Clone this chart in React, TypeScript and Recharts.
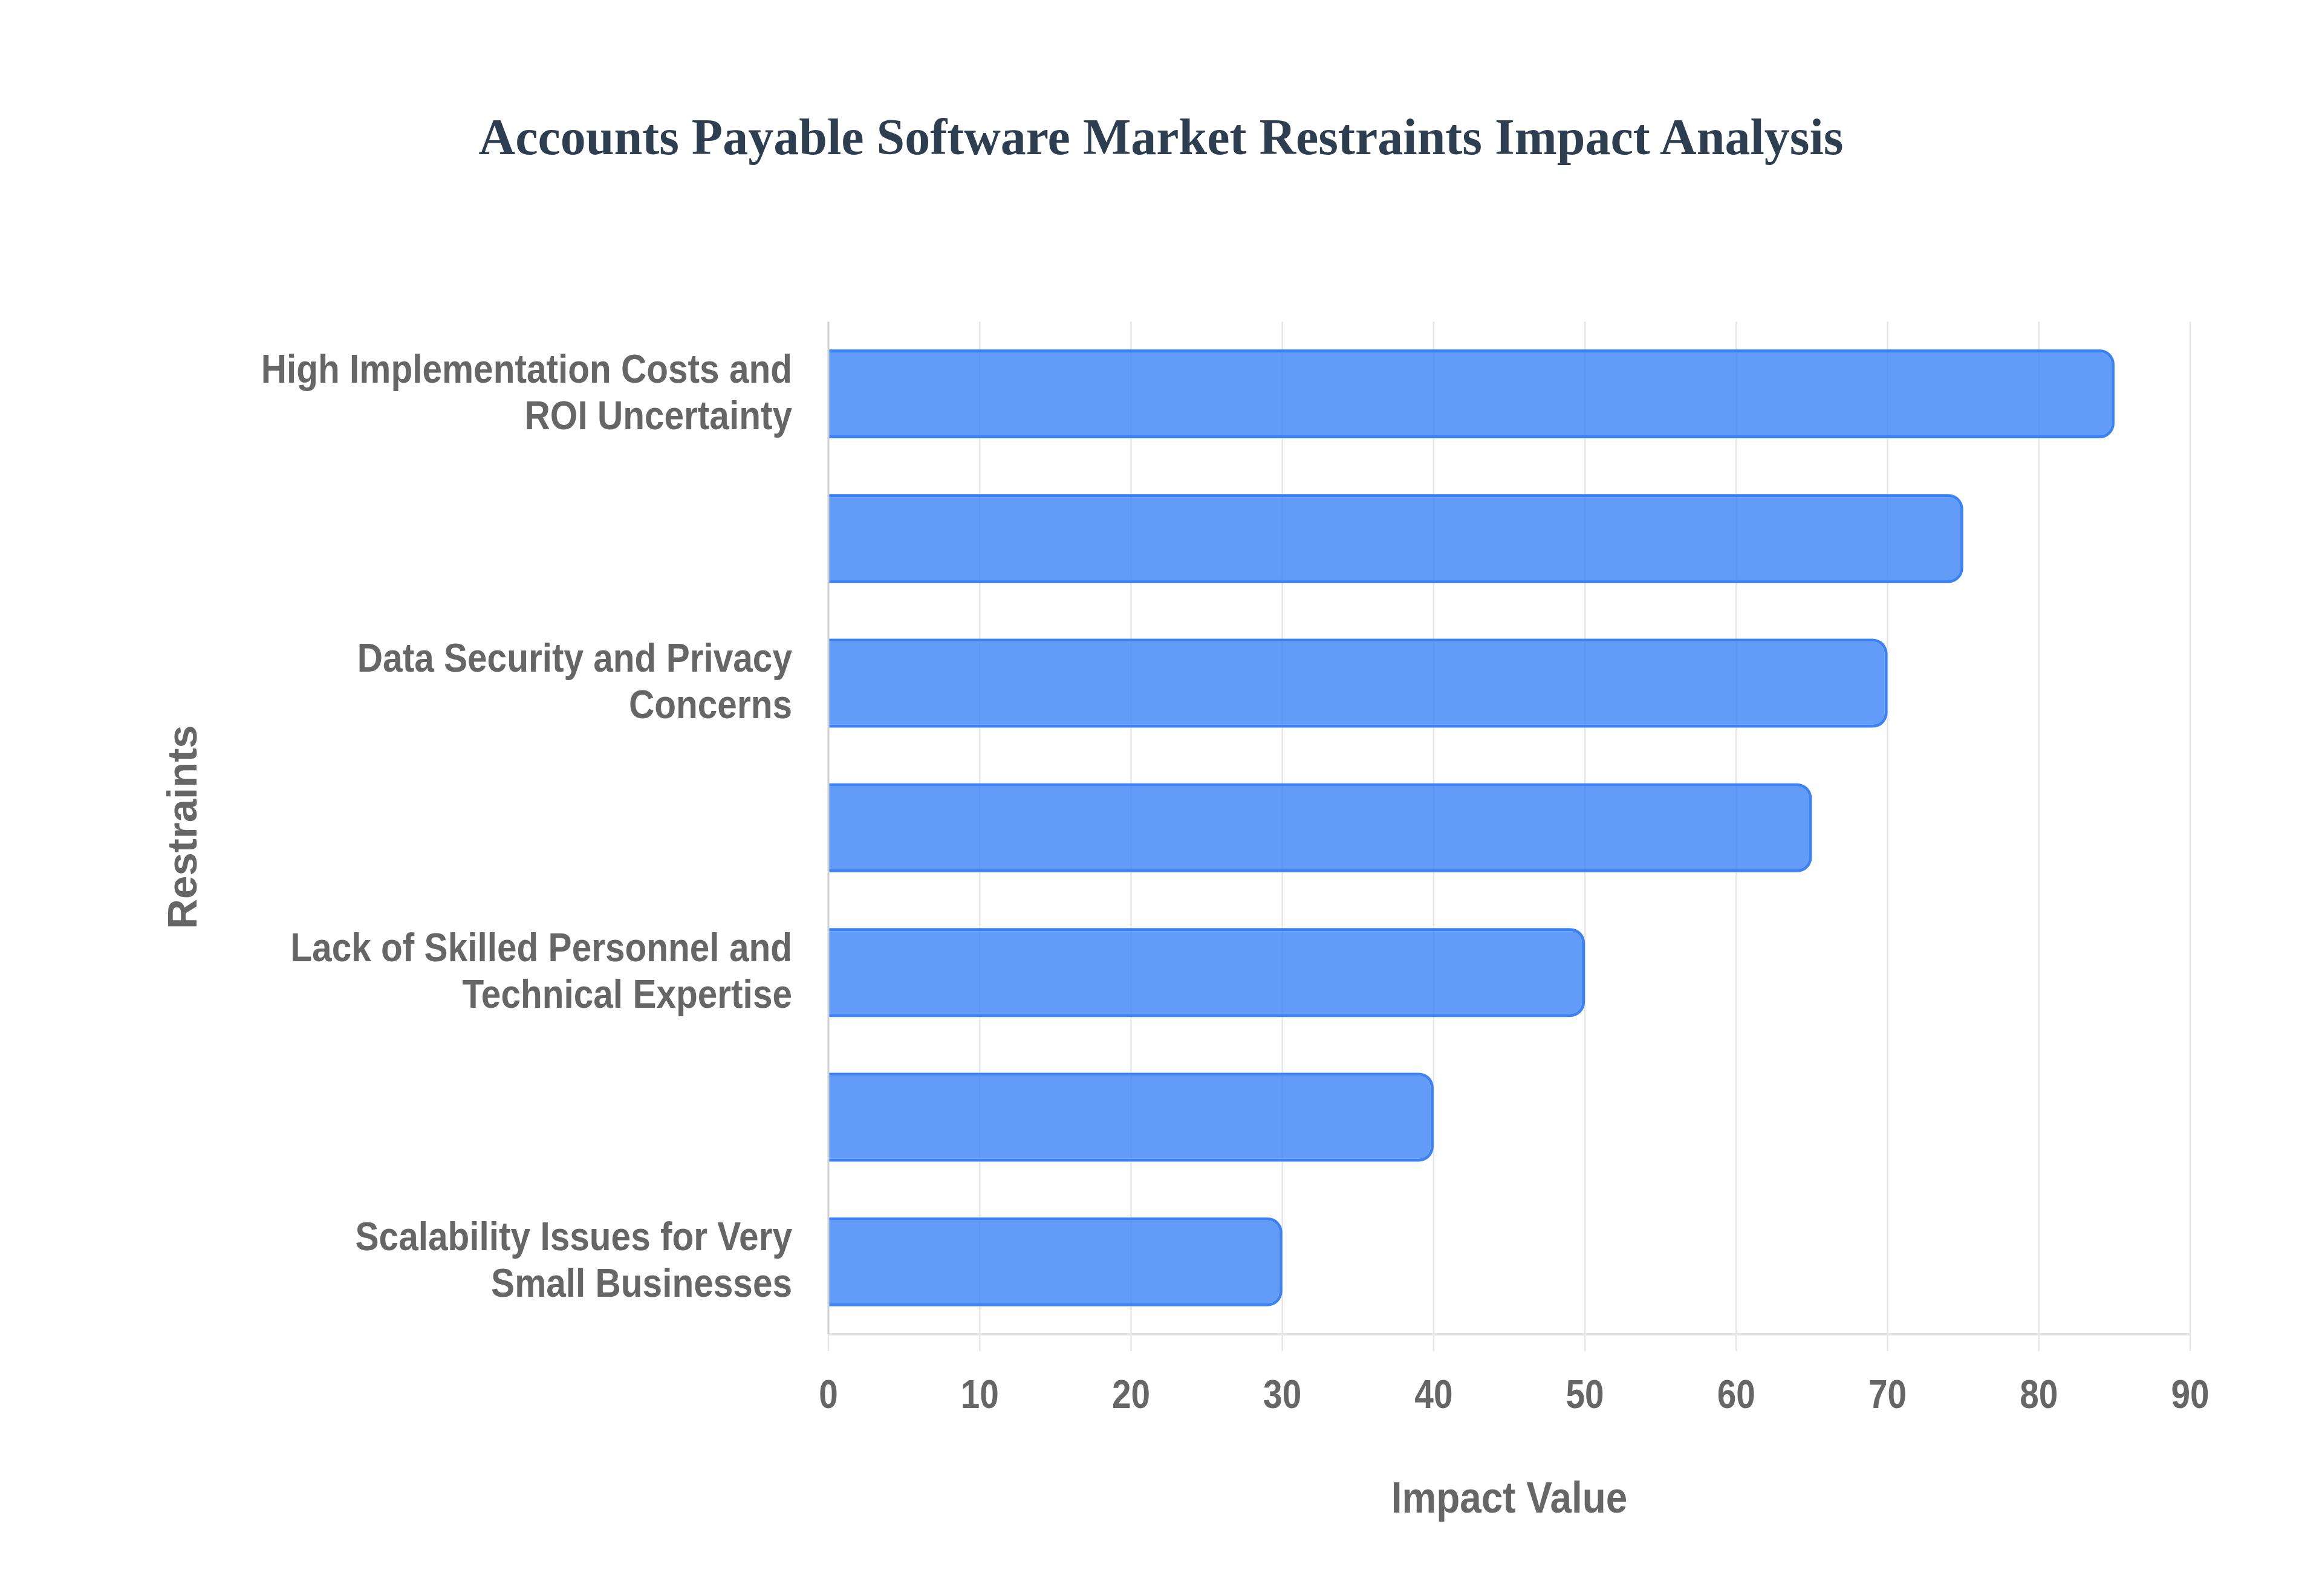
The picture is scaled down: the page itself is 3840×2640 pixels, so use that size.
import React from 'react';
import { BarChart, Bar, XAxis, YAxis, CartesianGrid } from 'recharts';

const chartTitle = 'Accounts Payable Software Market Restraints Impact Analysis';
const xAxisTitle = 'Impact Value';
const yAxisTitle = 'Restraints';

const restraints = [
  'High Implementation Costs and ROI Uncertainty',
  'Resistance to Change and Legacy System Dependence',
  'Data Security and Privacy Concerns',
  'Integration Challenges with Existing ERP Systems',
  'Lack of Skilled Personnel and Technical Expertise',
  'Regulatory Compliance Complexity Across Regions',
  'Scalability Issues for Very Small Businesses',
];
const impactValues = [85, 75, 70, 65, 50, 40, 30];
const xTicks = [0, 10, 20, 30, 40, 50, 60, 70, 80, 90];

const data = restraints.map((name, i) => ({ name, value: impactValues[i] }));

const SANS = '"Liberation Sans", Arial, Helvetica, sans-serif';
const SERIF = '"Liberation Serif", "Times New Roman", serif';
const TEXT = '#666666';

function wrap(label: string, max: number): string[] {
  const words = label.split(' ');
  const lines: string[] = [];
  let cur = '';
  for (const w of words) {
    const next = cur ? cur + ' ' + w : w;
    if (next.length > max && cur) {
      lines.push(cur);
      cur = w;
    } else {
      cur = next;
    }
  }
  if (cur) lines.push(cur);
  return lines;
}

const YTick = (props: any) => {
  const { x, y, payload } = props;
  const lines = wrap(String(payload.value), 30);
  const n = lines.length;
  return (
    <g transform={`translate(${x - 60},${y})`}>
      <text
        transform="scale(0.874,1)"
        textAnchor="end"
        fontFamily={SANS}
        fontWeight="bold"
        fontSize={67}
        fill={TEXT}
      >
        {lines.map((l, i) => (
          <tspan key={i} x={0} y={19.5 + (i - (n - 1) / 2) * 77}>
            {l}
          </tspan>
        ))}
      </text>
    </g>
  );
};

const XTick = (props: any) => {
  const { x, y, payload } = props;
  return (
    <g transform={`translate(${x},${y + 94})`}>
      <text
        transform="scale(0.86,1)"
        textAnchor="middle"
        fontFamily={SANS}
        fontWeight="bold"
        fontSize={66}
        fill={TEXT}
      >
        {payload.value}
      </text>
    </g>
  );
};

function roundedRight(x: number, y: number, w: number, h: number, r: number): string {
  const rr = Math.max(0, Math.min(r, w, h / 2));
  if (rr === 0) return `M${x},${y} H${x + w} V${y + h} H${x} Z`;
  return `M${x},${y} H${x + w - rr} A${rr},${rr} 0 0 1 ${x + w},${y + rr} V${y + h - rr} A${rr},${rr} 0 0 1 ${x + w - rr},${y + h} H${x} Z`;
}

const BarShape = (props: any) => {
  const { x, y, width, height } = props;
  if (!width || width <= 0) return null;
  const bw = 5;
  const r = 24.5;
  const outer = roundedRight(x, y, width, height, r);
  const inner = roundedRight(x, y + bw, width - bw, height - 2 * bw, r - bw);
  return (
    <g>
      <path d={outer + ' ' + inner} fill="#3b82f6" fillRule="evenodd" />
      <path d={inner} fill="rgba(59,130,246,0.8)" />
    </g>
  );
};

export default function App() {
  return (
    <div style={{ position: 'absolute', left: 0, top: 0, width: 3840, height: 2640, background: '#ffffff' }}>
      <BarChart
        width={3840}
        height={2640}
        data={data}
        layout="vertical"
        margin={{ top: 532, right: 218, bottom: 133, left: 0 }}
      >
        <CartesianGrid horizontal={false} vertical={true} stroke="#e6e6e6" strokeWidth={2.5} />
        <XAxis
          type="number"
          domain={[0, 90]}
          ticks={xTicks}
          interval={0}
          height={300}
          axisLine={{ stroke: '#e3e3e3', strokeWidth: 4 }}
          tickLine={{ stroke: '#e6e6e6', strokeWidth: 2.5 }}
          tickSize={28}
          tickMargin={0}
          tick={<XTick />}
        />
        <YAxis
          type="category"
          dataKey="name"
          width={1370}
          interval={1}
          axisLine={{ stroke: '#d0d0d0', strokeWidth: 3 }}
          tickLine={false}
          tickSize={0}
          tickMargin={0}
          tick={<YTick />}
        />
        <Bar dataKey="value" barSize={147} shape={<BarShape />} isAnimationActive={false} />
      </BarChart>
      <svg
        width={3840}
        height={2640}
        style={{ position: 'absolute', left: 0, top: 0, pointerEvents: 'none' }}
      >
        <text
          x={1920}
          y={255}
          textAnchor="middle"
          fontFamily={SERIF}
          fontWeight="bold"
          fontSize={84}
          fill="#2c3e50"
        >
          {chartTitle}
        </text>
        <g transform="translate(2496,2502)">
          <text
            transform="scale(0.887,1)"
            textAnchor="middle"
            fontFamily={SANS}
            fontWeight="bold"
            fontSize={72}
            fill={TEXT}
          >
            {xAxisTitle}
          </text>
        </g>
        <g transform="translate(325,1368) rotate(-90)">
          <text textAnchor="middle" fontFamily={SANS} fontWeight="bold" fontSize={69} fill={TEXT}>
            {yAxisTitle}
          </text>
        </g>
      </svg>
    </div>
  );
}
